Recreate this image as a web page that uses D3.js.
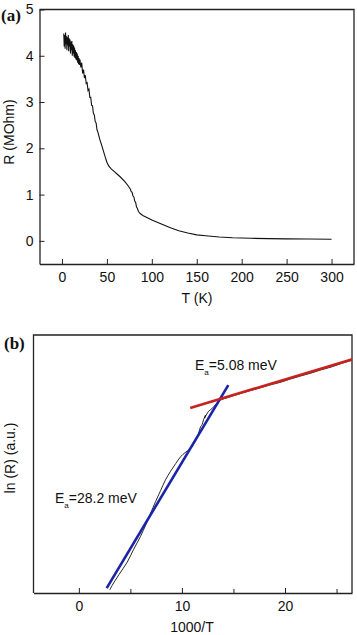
<!DOCTYPE html>
<html><head><meta charset="utf-8">
<script src="https://cdn.jsdelivr.net/npm/d3@7"></script>
<style>
html,body{margin:0;padding:0;background:#fff;}
svg{display:block;}
text{font-family:"Liberation Sans",Arial,sans-serif;fill:#111;}
</style></head>
<body>
<svg id="chart" width="357" height="635"></svg>
<script>
// ---------- Panel (a) data: R (MOhm) vs T (K) ----------
const tempK = [2,2.5,3,3.5,4,4.5,5,5.5,6,6.5,7,7.5,8,8.5,9,9.5,10,10.5,11,11.5,12,12.5,13,13.5,14,14.5,15,15.5,16,16.5,17,17.5,18,18.5,19,19.5,20,
  21,22,23,24,25,26,27,28,29,30,31,32,33,34,35,36,37,38,39,40,
  42,44,46,48,50,52,55,58,61,65,70,74,76,77,78,79,80,81,82,83,84,85,87,90,95,100,110,120,130,140,150,160,175,190,210,230,250,275,300];
const resistanceMOhm = [4.48,4.2,4.45,4.15,4.5,4.25,4.42,4.12,4.4,4.22,4.45,4.1,4.38,4.2,4.35,4.05,4.3,4.12,4.32,4.0,4.25,4.05,4.22,3.98,4.18,3.95,4.12,3.92,4.08,3.9,4.05,3.85,4.0,3.82,3.95,3.8,3.92,
  3.75,3.85,3.62,3.7,3.52,3.58,3.4,3.42,3.25,3.28,3.1,3.1,2.93,2.92,2.75,2.72,2.58,2.55,2.4,2.35,
  2.2,2.08,1.95,1.82,1.7,1.62,1.55,1.5,1.45,1.38,1.28,1.18,1.12,1.07,1.05,0.97,0.95,0.86,0.83,0.73,0.7,0.64,0.59,0.55,0.5,0.45,0.37,0.29,0.22,0.17,0.13,0.11,0.085,0.068,0.056,0.048,0.043,0.04,0.036];
const aXTicks = [0,50,100,150,200,250,300];
const aYTicks = [0,1,2,3,4,5];

// ---------- Panel (b) data: ln(R) vs 1000/T ----------
const invT = [3.0,3.24,3.9,4.7,5.3,5.99,6.5,6.96,7.45,7.93,8.4,8.9,9.4,9.87,10.3,10.68,11.0,11.17,11.5,11.82,11.95,12.1,12.3,12.2,12.6,12.95,13.3,13.76,14.5,15.5,16.5,17.5,18.5,19.5,20.5,21.5,22.5,23.5,24.5,25.5,26.5];
const lnR = [0.12,0.3,0.72,1.2,1.68,2.2,2.65,3.09,3.55,3.97,4.38,4.72,5.02,5.28,5.44,5.55,5.68,5.8,6.05,6.45,6.52,6.72,6.9,6.78,7.05,7.16,7.32,7.48,7.58,7.71,7.83,7.94,8.06,8.16,8.29,8.41,8.52,8.65,8.76,8.9,9.02];
const fitLowX = [2.7, 14.5];
const fitLowY = [0.19, 8.06];
const fitHighX = [10.8, 26.6];
const fitHighY = [7.17, 9.07];
const bMajorTicks = [0,10,20];
const bMinorTicks = [5,15,25];

const svg = d3.select("#chart");
const axisColor = "#222";

// ===== Panel (a) =====
const ax = d3.scaleLinear().domain([-25,325]).range([39.5,354]);
const ay = d3.scaleLinear().domain([-0.5,5]).range([264,9.5]);
const ga = svg.append("g");
ga.append("g").attr("transform","translate(0,264)")
  .call(d3.axisBottom(ax).tickValues(aXTicks).tickSizeInner(-5).tickSizeOuter(0).tickPadding(8).tickFormat(d3.format("d")))
  .call(g=>{g.select(".domain").attr("stroke",axisColor).attr("stroke-width",1.3);
            g.selectAll(".tick line").attr("stroke",axisColor).attr("stroke-width",1);
            g.selectAll("text").attr("font-size",14).attr("fill","#111");});
ga.append("g").attr("transform","translate(39.5,0)")
  .call(d3.axisLeft(ay).tickValues(aYTicks).tickSizeInner(-5).tickSizeOuter(0).tickPadding(6).tickFormat(d3.format("d")))
  .call(g=>{g.select(".domain").attr("stroke",axisColor).attr("stroke-width",1.3);
            g.selectAll(".tick line").attr("stroke",axisColor).attr("stroke-width",1);
            g.selectAll("text").attr("font-size",14).attr("fill","#111");});
ga.append("path").attr("d",`M39.5,9.5H354V264`).attr("fill","none").attr("stroke",axisColor).attr("stroke-width",1.3);
ga.append("path").datum(tempK.map((t,i)=>[t,resistanceMOhm[i]]))
  .attr("d",d3.line().x(d=>ax(d[0])).y(d=>ay(d[1])))
  .attr("fill","none").attr("stroke","#111").attr("stroke-width",1.1);
ga.append("text").attr("x",197).attr("y",303).attr("text-anchor","middle").attr("font-size",14).text("T (K)");
ga.append("text").attr("transform","translate(14,132) rotate(-90)").attr("text-anchor","middle").attr("font-size",14).text("R (MOhm)");
ga.append("text").attr("x",1).attr("y",21).attr("font-size",17).attr("font-weight","bold")
  .style("font-family","'Liberation Serif','Times New Roman',serif").text("(a)");

// ===== Panel (b) =====
const bx = d3.scaleLinear().domain([-4.4,26.5]).range([33.5,352]);
const by = d3.scaleLinear().domain([0,10]).range([593,335]);
const gb = svg.append("g");
svg.append("defs").append("clipPath").attr("id","clipb").append("rect")
  .attr("x",33.5).attr("y",335).attr("width",352-33.5).attr("height",593-335);
gb.append("g").attr("transform","translate(0,593)")
  .call(d3.axisBottom(bx).tickValues(bMajorTicks).tickSizeInner(-5).tickSizeOuter(0).tickPadding(8).tickFormat(d3.format("d")))
  .call(g=>{g.select(".domain").attr("stroke",axisColor).attr("stroke-width",1.3);
            g.selectAll(".tick line").attr("stroke",axisColor).attr("stroke-width",1);
            g.selectAll("text").attr("font-size",14).attr("fill","#111");});
gb.append("g").attr("transform","translate(0,593)")
  .call(d3.axisBottom(bx).tickValues(bMinorTicks).tickSizeInner(-4).tickSizeOuter(0).tickFormat(""))
  .call(g=>{g.select(".domain").remove(); g.selectAll(".tick line").attr("stroke",axisColor).attr("stroke-width",1);});
gb.append("path").attr("d",`M33.5,593V335H352V593`).attr("fill","none").attr("stroke",axisColor).attr("stroke-width",1.3);
const plotB = gb.append("g").attr("clip-path","url(#clipb)");
plotB.append("path").datum(invT.map((t,i)=>[t,lnR[i]]))
  .attr("d",d3.line().x(d=>bx(d[0])).y(d=>by(d[1])).curve(d3.curveCatmullRom))
  .attr("fill","none").attr("stroke","#111").attr("stroke-width",0.9);
plotB.append("path").datum(fitLowX.map((t,i)=>[t,fitLowY[i]]))
  .attr("d",d3.line().x(d=>bx(d[0])).y(d=>by(d[1])))
  .attr("fill","none").attr("stroke","#1b23a8").attr("stroke-width",2.6);
plotB.append("path").datum(fitHighX.map((t,i)=>[t,fitHighY[i]]))
  .attr("d",d3.line().x(d=>bx(d[0])).y(d=>by(d[1])))
  .attr("fill","none").attr("stroke","#c8221e").attr("stroke-width",2.6);
gb.append("text").attr("x",192).attr("y",632).attr("text-anchor","middle").attr("font-size",14).text("1000/T");
gb.append("text").attr("transform","translate(15,458) rotate(-90)").attr("text-anchor","middle").attr("font-size",14).text("ln (R) (a.u.)");
gb.append("text").attr("x",4).attr("y",349).attr("font-size",17).attr("font-weight","bold")
  .style("font-family","'Liberation Serif','Times New Roman',serif").text("(b)");
function eaLabel(x,y,val){
  const t = gb.append("text").attr("x",x).attr("y",y).attr("font-size",14);
  t.append("tspan").text("E");
  t.append("tspan").attr("font-size",8).attr("dy",5).text("a");
  t.append("tspan").attr("dy",-5).text("=" + val + " meV");
}
eaLabel(195,370,"5.08");
eaLabel(55,503,"28.2");
</script>
</body></html>
